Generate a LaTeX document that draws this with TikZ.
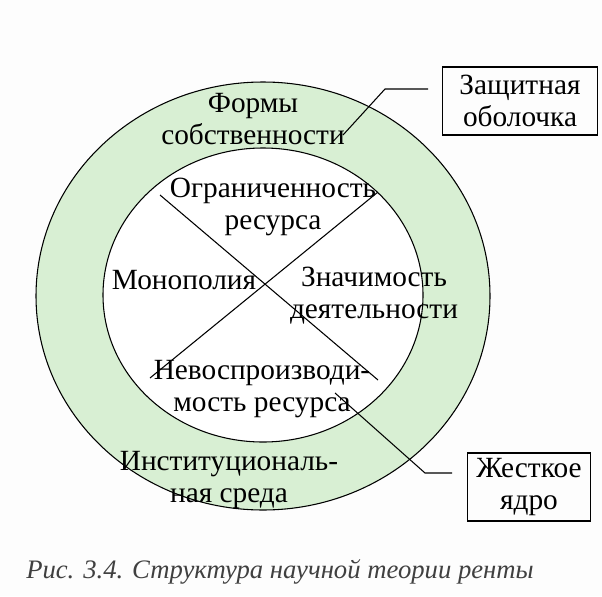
\documentclass[tikz,border=0pt]{standalone}
\usepackage{fontspec}
\setmainfont{Liberation Serif}
\definecolor{ring}{HTML}{D8EFD3}
\definecolor{bg}{HTML}{FDFDFD}
\begin{document}
\begin{tikzpicture}[x=0.75pt,y=-0.75pt,
  lbl/.style={font=\fontsize{22}{24}\selectfont, align=center, inner sep=0pt},
  tbox/.style={draw, line width=0.8pt, font=\fontsize{22}{24}\selectfont, align=center, minimum width=116pt, minimum height=51pt, inner sep=1pt},
  ln/.style={line width=0.8pt}]
\fill[bg] (0,0) rectangle (602,596);
\useasboundingbox (0,0) rectangle (602,596);
\fill[ring, draw=black, ln] (263,296) ellipse [x radius=227, y radius=214];
\fill[white, draw=black, ln] (263,295) ellipse [x radius=160, y radius=147];
\coordinate (a1) at (160,195); \coordinate (a2) at (378,380);
\coordinate (b1) at (150,378); \coordinate (b2) at (378,192);
\draw[ln] (a1) -- (a2);
\draw[ln] (b1) -- (b2);
\node[lbl] (forms) at (253,119) {Формы\\собственности};
\node[lbl] (ogr) at (273,207) {Ограниченность\\ресурса};
\node[lbl] (mono) at (184,280) {Монополия};
\node[lbl] (zn) at (374,296) {Значимость\\деятельности};
\node[lbl] (nev) at (262,389) {Невоспроизводи-\\мость ресурса};
\node[lbl] (inst) at (229,480) {Институциональ-\\ная среда};
\node[tbox] (zo) at (520,101) {Защитная\\оболочка};
\node[tbox, minimum width=92pt] (zh) at (529,487) {Жесткое\\ядро};
\coordinate (z1) at (428,89); \coordinate (z2) at (385,89); \coordinate (z3) at (343,135);
\draw[ln] (z1) -- (z2) -- (z3);
\coordinate (j1) at (335,393); \coordinate (j2) at (425,473); \coordinate (j3) at (452,473);
\draw[ln] (j1) -- (j2) -- (j3);
\node[font=\fontsize{20}{22}\selectfont\itshape, text=black!75, inner sep=0pt] (cap) at (280,572) {Рис. 3.4. Структура научной теории ренты};
\end{tikzpicture}
\end{document}
